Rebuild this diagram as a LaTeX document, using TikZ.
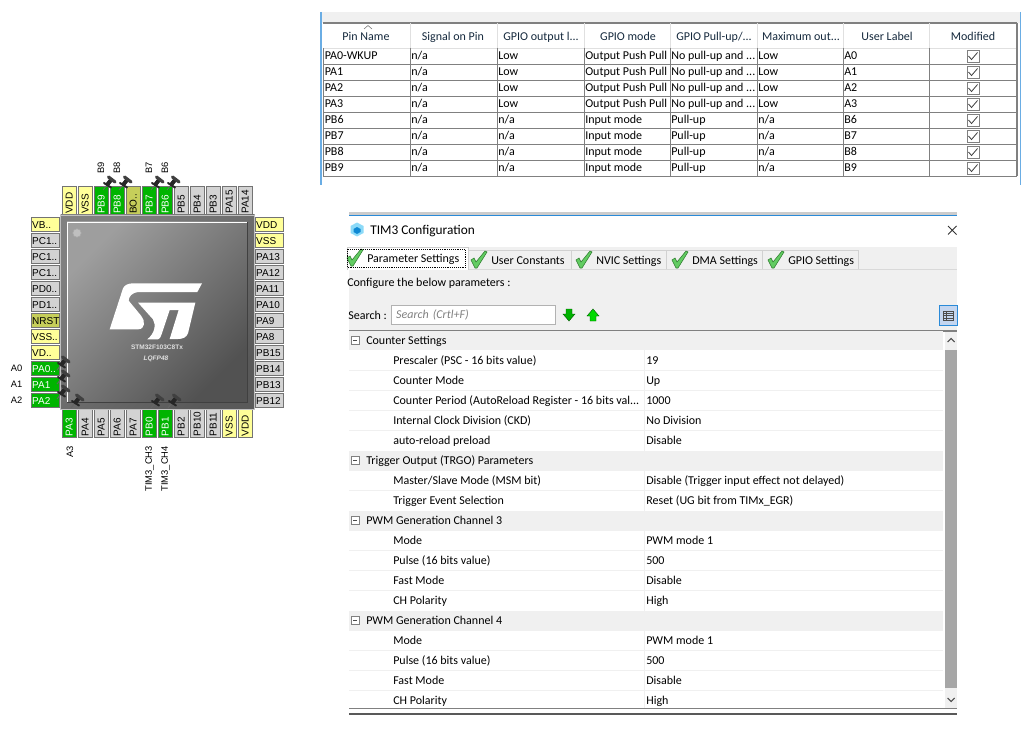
\documentclass[tikz,border=0pt]{standalone}
\usepackage{fontspec}
\setmainfont{Carlito}
\newfontfamily\pinfont{Liberation Sans}
\usepackage{tikz}
\usetikzlibrary{positioning}
\definecolor{pinyellow}{HTML}{FFFF99}
\definecolor{pingrey}{HTML}{D3D3D3}
\definecolor{pingreen}{HTML}{00B400}
\definecolor{pinolive}{HTML}{C6CE5A}
\definecolor{panelgrey}{HTML}{F0F0F0}
\definecolor{gridgrey}{HTML}{808080}
\definecolor{headblue}{HTML}{14283C}
\definecolor{winblue}{HTML}{2A8AD8}
\definecolor{tickgreen}{HTML}{62CC62}
\definecolor{tickedge}{HTML}{2C7A2C}
\definecolor{iconblue}{HTML}{C4D6F0}
\newcommand{\cutdots}{...}
\tikzset{
  chippin/.style={rectangle,draw=black!55,line width=.5pt,minimum width=21.4pt,minimum height=10.5pt,
    inner xsep=.7pt,inner ysep=0pt,text width=20pt,align=left,text height=5.4pt,text depth=0pt,
    font=\pinfont\fontsize{7.5}{7.5}\selectfont},
  pinpwr/.style={fill=pinyellow},
  pinfree/.style={fill=pingrey},
  pinused/.style={fill=pingreen,text=white},
  pinboot/.style={fill=pinolive},
  pinlabel/.style={inner sep=0pt,font=\pinfont\fontsize{7}{7}\selectfont},
  celltext/.style={anchor=west,inner sep=0pt,text height=7.5pt,text depth=1.5pt,font=\fontsize{9}{9}\selectfont},
  headtext/.style={inner sep=0pt,text=headblue,text height=7.5pt,text depth=1.5pt,font=\fontsize{9}{9}\selectfont},
  rowname/.style={anchor=west,inner sep=0pt,text height=7.5pt,text depth=1.5pt,font=\fontsize{9}{9}\selectfont},
  tabtext/.style={anchor=west,inner sep=0pt,text height=7.5pt,text depth=1.5pt,font=\fontsize{9}{9}\selectfont},
  pushpin/.pic={
    \draw[black!60,line width=.6pt] (0,0) -- (4,-5);
    \draw[black!85,line width=1.5pt,line cap=round] (1,-7) -- (8,-2.5);
    \draw[black!85,line width=3pt] (4,-5) -- (8,-10);
    \draw[black!75,line width=2.4pt,line cap=round] (5.5,-13) -- (12,-8);
  },
  tabtick/.pic={
    \fill[tickgreen,draw=tickedge,line width=.4pt] (-8,0) -- (-5,-2) -- (-3,2) -- (6,-9) -- (8,-8) -- (-2,8) -- (-4,8) -- cycle;
  }
}
\begin{document}
\begin{tikzpicture}[x=0.75pt,y=-0.75pt]
\useasboundingbox (0,0) rectangle (1030,752);
% chip
\foreach \pinname/\pinkind [count=\i from 0] in {VDD/pinpwr,VSS/pinpwr,PB9/pinused,PB8/pinused,BO../pinboot,PB7/pinused,PB6/pinused,PB5/pinfree,PB4/pinfree,PB3/pinfree,PA15/pinfree,PA14/pinfree}
  \node[chippin,\pinkind,rotate=90] (top\i) at ({69+16*\i},200.5) {\pinname};
\foreach \pinname/\pinkind [count=\i from 0] in {PA3/pinused,PA4/pinfree,PA5/pinfree,PA6/pinfree,PA7/pinfree,PB0/pinused,PB1/pinused,PB2/pinfree,PB10/pinfree,PB11/pinfree,VSS/pinpwr,VDD/pinpwr}
  \node[chippin,\pinkind,rotate=90] (bot\i) at ({69+16*\i},423) {\pinname};
\foreach \pinname/\pinkind [count=\i from 0] in {VB../pinpwr,PC1../pinfree,PC1../pinfree,PC1../pinfree,PD0../pinfree,PD1../pinfree,NRST/pinboot,VSS../pinpwr,VD../pinpwr,PA0../pinused,PA1/pinused,PA2/pinused}
  \node[chippin,\pinkind] (lft\i) at (45.5,{224.5+16*\i}) {\pinname};
\foreach \pinname/\pinkind [count=\i from 0] in {VDD/pinpwr,VSS/pinpwr,PA13/pinfree,PA12/pinfree,PA11/pinfree,PA10/pinfree,PA9/pinfree,PA8/pinfree,PB15/pinfree,PB14/pinfree,PB13/pinfree,PB12/pinfree}
  \node[chippin,\pinkind] (rgt\i) at (269.5,{224.5+16*\i}) {\pinname};
\shade[draw=black!25,top color=black!50,bottom color=black!65,shading angle=45] (60.5,215) rectangle (254.5,409);
\shade[top color=black!38,bottom color=black!68,shading angle=45] (67,222) rectangle (247,402);
\draw[white,line width=.7pt] (67,402) -- (67,222) -- (247,222);
\draw[black!75,line width=.7pt] (247,222) -- (247,402) -- (67,402);
\draw[black!35,fill=black!25,line width=.5pt] (77,233) circle (4.3);
\begin{scope}[shift={(108,280)},scale=1/3]
\fill[white] (282,10) -- (268,36) -- (90,36) .. controls (72,38) and (62,50) .. (62,62) -- (100,108) .. controls (112,122) and (112,148) .. (90,148) -- (5,148) -- (45,25) .. controls (50,15) and (60,10) .. (75,10) -- cycle;
\fill[white] (90,68) -- (262,68) -- (240,160) .. controls (235,172) and (225,177) .. (210,177) -- (185,177) -- (212,90) -- (185,90) -- (160,165) .. controls (157,172) and (155,178) .. (150,178) -- (118,178) .. controls (140,160) and (145,135) .. (135,118) -- cycle;
\end{scope}
\node[inner sep=0pt,text=black!12,font=\pinfont\bfseries\fontsize{4.9}{5}\selectfont] (chipname) at (157,347.5) {STM32F103C8Tx};
\node[inner sep=0pt,text=black!12,font=\pinfont\bfseries\itshape\fontsize{4.9}{5}\selectfont] (chippkg) at (156,358.5) {LQFP48};
% pins in use
\foreach \px/\py in {103/190,119/190,151/190,167/190,57/370,57/384,57/399,71/408,151/408,168/408}
  \pic at (\px,\py) {pushpin};
\foreach \lab/\px [count=\i] in {B9/101,B8/117,B7/149,B6/165}
  \node[pinlabel,rotate=90,anchor=west] (toplab\i) at (\px,174) {\lab};
\foreach \lab/\px [count=\i] in {A3/70,TIM3\_CH3/149.5,TIM3\_CH4/165.5}
  \node[pinlabel,rotate=90,anchor=east] (botlab\i) at (\px,446) {\lab};
\foreach \lab/\py [count=\i] in {A0/368,A1/384,A2/400}
  \node[pinlabel] (lftlab\i) at (16.5,\py) {\lab};
% pin table
\fill[panelgrey] (321,12) rectangle (1020,23);
\draw[winblue!70,line width=.8pt] (321,12) -- (321,185);
\draw[winblue!70,line width=.8pt] (1020.5,12) -- (1020.5,185);
\draw[gridgrey,line width=.8pt] (323,23) -- (1017,23);
\draw[black!12,line width=.6pt] (323,48) -- (1017,48);
\foreach \cx in {410,497,584,670,757,843,929}
  \draw[black!12,line width=.6pt] (\cx,23) -- (\cx,48);
\foreach \ry in {64,80,...,176}
  \draw[gridgrey,line width=.7pt] (323,\ry) -- (1017,\ry);
\foreach \cx in {323,410,497,584,670,757,843,929}
  \draw[gridgrey,line width=.7pt] (\cx,48) -- (\cx,176);
\draw[gridgrey,line width=1pt] (1017,23) -- (1017,176);
\foreach \htext/\hx [count=\i] in {Pin Name/366,Signal on Pin/453,GPIO output l\cutdots/541,GPIO mode/628,GPIO Pull-up\slash\cutdots/714,Maximum out\cutdots/801,User Label/887,Modified/973}
  \node[headtext] (hdr\i) at (\hx,37) {\htext};
\draw[black!55,line width=.4pt] (364,29) -- (368,25.5) -- (372,29);
\foreach \pname/\psig/\plev/\pmode/\ppull/\pmax/\plab [count=\i from 0] in {
  PA0-WKUP/n\slash a/Low/Output Push Pull/No pull-up and \cutdots/Low/A0,
  PA1/n\slash a/Low/Output Push Pull/No pull-up and \cutdots/Low/A1,
  PA2/n\slash a/Low/Output Push Pull/No pull-up and \cutdots/Low/A2,
  PA3/n\slash a/Low/Output Push Pull/No pull-up and \cutdots/Low/A3,
  PB6/n\slash a/n\slash a/Input mode/Pull-up/n\slash a/B6,
  PB7/n\slash a/n\slash a/Input mode/Pull-up/n\slash a/B7,
  PB8/n\slash a/n\slash a/Input mode/Pull-up/n\slash a/B8,
  PB9/n\slash a/n\slash a/Input mode/Pull-up/n\slash a/B9}{
  \node[celltext] (pin\i) at (324.5,{56+16*\i}) {\pname};
  \node[celltext] (sig\i) at (411,{56+16*\i}) {\psig};
  \node[celltext] (lev\i) at (498,{56+16*\i}) {\plev};
  \node[celltext] (mod\i) at (585,{56+16*\i}) {\pmode};
  \node[celltext] (pul\i) at (671,{56+16*\i}) {\ppull};
  \node[celltext] (max\i) at (758,{56+16*\i}) {\pmax};
  \node[celltext] (lab\i) at (844,{56+16*\i}) {\plab};
  \node[draw=black!50,fill=white,line width=.5pt,minimum size=9pt,inner sep=0pt] (chk\i) at (973,{56+16*\i}) {};
  \draw[black!75,line width=.6pt] (968.5,{56+16*\i}) -- (971.5,{59.5+16*\i}) -- (977.5,{52.5+16*\i});
}
% timer window
\fill[black!20] (349,212) rectangle (957,215);
\draw[winblue,line width=.8pt] (349,215.5) -- (957,215.5);
\fill[panelgrey] (349,247) rectangle (957,331);
\draw[black!15,line width=.6pt] (349,269.5) -- (957,269.5);
\fill[cyan!45] (357,222.5) -- (363.5,226) -- (363.5,233) -- (357,236.5) -- (350.5,233) -- (350.5,226) -- cycle;
\fill[cyan!70!blue] (357,227) -- (360.5,229) -- (360.5,232) -- (357,234) -- (353.5,232) -- (353.5,229) -- cycle;
\node[tabtext,font=\fontsize{10}{10}\selectfont] (wintitle) at (370,230.5) {TIM3 Configuration};
\draw[black!80,line width=.6pt] (948,226) -- (956.5,234.5) (956.5,226) -- (948,234.5);
\filldraw[fill=white,draw=black!20,line width=.5pt] (347,270) -- (347,247) -- (468,247) -- (468,270);
\foreach \tx/\ty/\tt/\ttext [count=\i] in {468/571/491/User Constants,571/666/596/NVIC Settings,666/762/692/DMA Settings,762/858/788/GPIO Settings}{
  \draw[black!18,fill=panelgrey,line width=.5pt] (\tx,269) -- (\tx,250) -- (\ty,250) -- (\ty,269);
  \pic at ({\tt-12},260) {tabtick};
  \node[tabtext] (tab\i) at (\tt,260) {\ttext};
}
\pic at (355,258) {tabtick};
\node[tabtext] (tab0) at (367,258) {Parameter Settings};
\draw[black,densely dotted,line width=.4pt] (347.5,249) rectangle (465,267.5);
\node[tabtext] (hintline) at (347,282) {Configure the below parameters :};
\node[tabtext] (searchlab) at (348,315) {Search :};
\node[draw=black!30,fill=white,line width=.6pt,minimum width=123.5pt,minimum height=14pt,inner xsep=3.5pt,inner ysep=0pt,text width=116pt,align=left,text=black!50,font=\itshape\fontsize{9}{9}\selectfont] (searchbox) at (473.5,315) {Search (Crtl+F)};
\fill[green!70!black,draw=green!35!black,line width=.3pt] (566,309) -- (572,309) -- (572,314) -- (575,314) -- (569,321) -- (563,314) -- (566,314) -- cycle;
\fill[green!85!black,draw=green!35!black,line width=.3pt] (590,321) -- (596,321) -- (596,316) -- (599,316) -- (593,309) -- (587,316) -- (590,316) -- cycle;
\draw[winblue,fill=iconblue,line width=.7pt] (939,305.5) rectangle (957,325);
\draw[black!70,line width=.4pt] (943.5,311) rectangle (953.5,320) (943.5,313) -- (953.5,313) (943.5,315.5) -- (953.5,315.5) (943.5,318) -- (953.5,318) (946,311) -- (946,320);
\draw[black!50,line width=.8pt] (349,331) -- (957,331);
\foreach \by/\bh in {331/350,451/471,511/531,611/631}
  \fill[panelgrey] (349,\by) rectangle (943,\bh);
\foreach \ry in {370.5,390.5,410.5,430.5,490.5,550.5,570.5,590.5,650.5,670.5,690.5}
  \draw[panelgrey,line width=.7pt] (349,\ry) -- (943,\ry);
\draw[panelgrey,line width=.7pt] (644,350) -- (644,708);
\foreach \gname/\gy [count=\i] in {Counter Settings/340,Trigger Output (TRGO) Parameters/460,PWM Generation Channel 3/520,PWM Generation Channel 4/620}{
  \draw[black!50,fill=white,line width=.4pt] (351,{\gy-4}) rectangle (359,{\gy+4});
  \draw[black!70,line width=.5pt] (353,\gy) -- (357,\gy);
  \node[rowname] (grp\i) at (366,\gy) {\gname};
}
\foreach \rname/\rval/\ry [count=\i] in {
  Prescaler (PSC - 16 bits value)/19/360,
  Counter Mode/Up/380,
  Counter Period (AutoReload Register - 16 bits val\cutdots/1000/400,
  Internal Clock Division (CKD)/No Division/420,
  auto-reload preload/Disable/440,
  Master\slash Slave Mode (MSM bit)/Disable (Trigger input effect not delayed)/480,
  Trigger Event Selection/Reset (UG bit from TIMx\_EGR)/500,
  Mode/PWM mode 1/540,
  Pulse (16 bits value)/500/560,
  Fast Mode/Disable/580,
  CH Polarity/High/600,
  Mode/PWM mode 1/640,
  Pulse (16 bits value)/500/660,
  Fast Mode/Disable/680,
  CH Polarity/High/700}{
  \node[rowname] (par\i) at (393,\ry) {\rname};
  \node[rowname] (val\i) at (646,\ry) {\rval};
}
\fill[panelgrey] (945,332) rectangle (957,708);
\fill[black!35] (945,350) rectangle (957,688);
\draw[black!70,line width=.8pt] (947.5,342) -- (951,338.5) -- (954.5,342);
\draw[black!70,line width=.8pt] (947.5,698) -- (951,701.5) -- (954.5,698);
\draw[black!50,line width=.7pt] (349,708.5) -- (957,708.5);
\draw[black!65,line width=1.5pt] (349,713.5) -- (957,713.5);
\end{tikzpicture}
\end{document}
